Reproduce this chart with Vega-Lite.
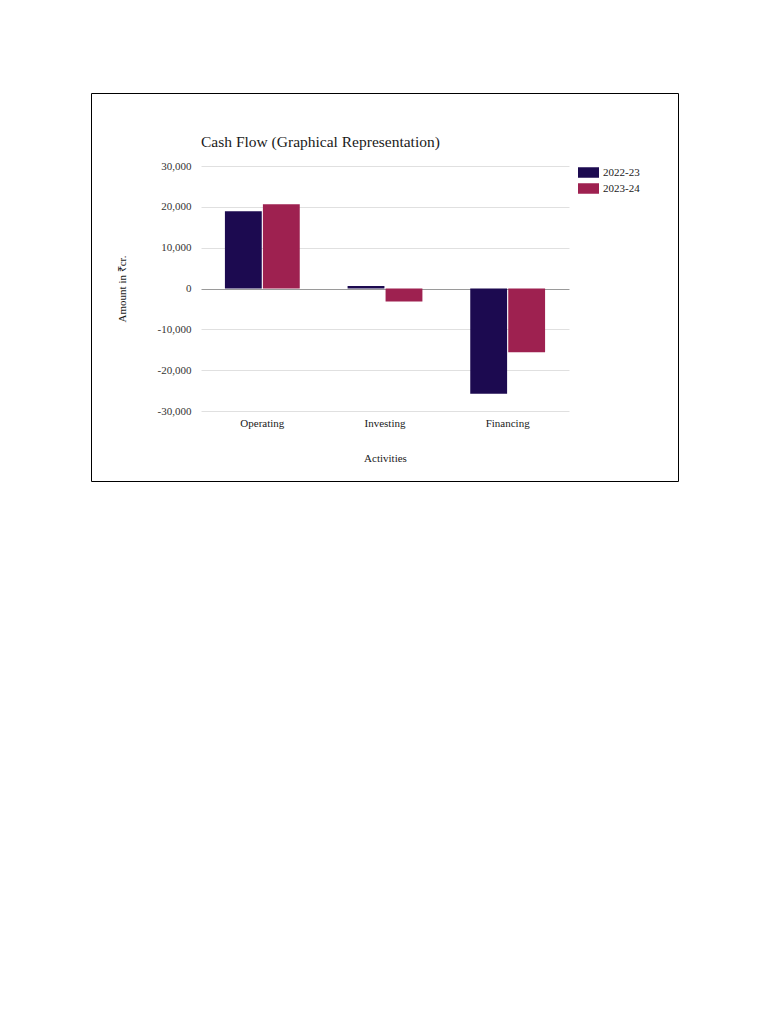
{
  "$schema": "https://vega.github.io/schema/vega-lite/v6.json",
  "width": 587,
  "height": 388,
  "autosize": {"type": "none"},
  "padding": {"left": 91, "top": 93, "right": 4, "bottom": 4},
  "background": "white",
  "config": {
    "font": "Liberation Serif",
    "view": {"stroke": "#000000", "strokeWidth": 1},
    "locale": {"number": {"decimal": ".", "thousands": ",", "grouping": [3], "currency": ["$", ""], "minus": "-"}}
  },
  "title": {
    "text": "Cash Flow (Graphical Representation)",
    "anchor": "start",
    "frame": "group",
    "dx": 110,
    "dy": 69,
    "offset": 0,
    "baseline": "alphabetic",
    "fontSize": 15.5,
    "fontWeight": "normal",
    "color": "#1a1a1a",
    "font": "Liberation Serif"
  },
  "data": {
    "values": [
      {"activity": "Operating", "year": "2022-23", "amount": 18900},
      {"activity": "Operating", "year": "2023-24", "amount": 20650},
      {"activity": "Investing", "year": "2022-23", "amount": 600},
      {"activity": "Investing", "year": "2023-24", "amount": -3200},
      {"activity": "Financing", "year": "2022-23", "amount": -25800},
      {"activity": "Financing", "year": "2023-24", "amount": -15600}
    ]
  },
  "mark": {"type": "bar"},
  "encoding": {
    "x": {
      "field": "activity",
      "type": "nominal",
      "sort": ["Operating", "Investing", "Financing"],
      "scale": {"range": [110, 478], "paddingInner": 0.39, "paddingOuter": 0.195},
      "axis": {
        "title": "Activities",
        "orient": "bottom",
        "offset": -70,
        "labelAngle": 0,
        "domain": false,
        "ticks": false,
        "grid": false,
        "labelPadding": 6,
        "labelFontSize": 11,
        "labelColor": "#1a1a1a",
        "labelFont": "Liberation Serif",
        "titlePadding": 24,
        "titleFontSize": 11,
        "titleFontWeight": "normal",
        "titleColor": "#1a1a1a",
        "titleFont": "Liberation Serif"
      }
    },
    "xOffset": {"field": "year", "type": "nominal", "scale": {"paddingInner": 0.03}},
    "y": {
      "field": "amount",
      "type": "quantitative",
      "scale": {"domain": [-30000, 30000], "range": [318, 73], "nice": false, "zero": false},
      "axis": {
        "title": "Amount in ₹cr.",
        "offset": -110,
        "values": [-30000, -20000, -10000, 0, 10000, 20000, 30000],
        "format": ",.0f",
        "domain": false,
        "ticks": false,
        "labelPadding": 10,
        "labelFontSize": 11,
        "labelColor": "#333333",
        "labelFont": "Liberation Serif",
        "gridColor": {"condition": {"test": "datum.value === 0", "value": "#9a9a9a"}, "value": "#e0e0e0"},
        "gridWidth": 1,
        "titlePadding": 30,
        "titleFontSize": 11,
        "titleFontWeight": "normal",
        "titleColor": "#1a1a1a",
        "titleFont": "Liberation Serif"
      }
    },
    "color": {
      "field": "year",
      "type": "nominal",
      "scale": {"domain": ["2022-23", "2023-24"], "range": ["#1c0a50", "#9e2150"]},
      "legend": {
        "title": null,
        "orient": "none",
        "legendX": 487,
        "legendY": 69,
        "padding": 0,
        "symbolType": "M-1,-0.5H1V0.5H-1Z",
        "symbolSize": 441,
        "symbolOpacity": 1,
        "symbolStrokeWidth": 0,
        "rowPadding": -3,
        "labelOffset": 4,
        "labelFontSize": 11,
        "labelColor": "#1a1a1a",
        "labelFont": "Liberation Serif"
      }
    }
  }
}
